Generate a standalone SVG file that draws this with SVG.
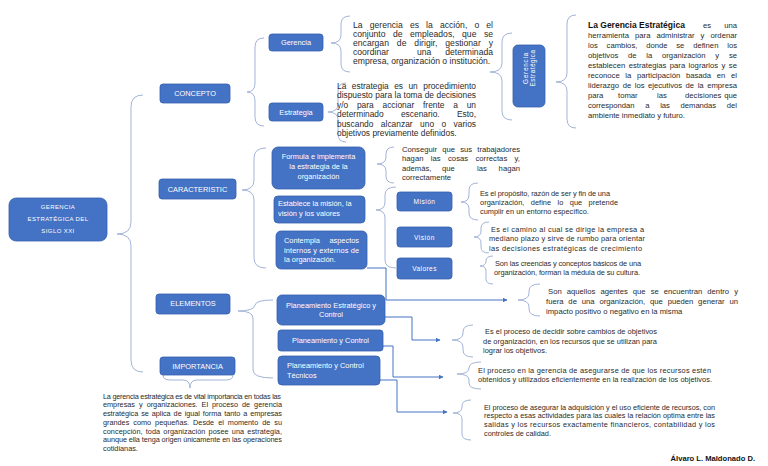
<svg xmlns="http://www.w3.org/2000/svg" width="768" height="466" viewBox="0 0 768 466">
<style>
.bx{fill:#4472C4;stroke:#3560AE;stroke-width:0.8}
.bl{font-family:"Liberation Sans",Arial,sans-serif;fill:#ffffff;font-size:7.4px}
.tx{font-family:"Liberation Sans",Arial,sans-serif;fill:#2b2b2b;font-size:7.7px}
.br{fill:none;stroke:#A3B4D8;stroke-width:1}
.cn{fill:none;stroke:#4472C4;stroke-width:1;marker-end:url(#arr)}
</style>
<defs>
<marker id="arr" viewBox="0 0 10 10" refX="9" refY="5" markerWidth="5" markerHeight="5" markerUnits="userSpaceOnUse" orient="auto"><path d="M0,0 L10,5 L0,10 z" fill="#4472C4"/></marker>
</defs>
<rect width="768" height="466" fill="#ffffff"/>

<g id="braces">
<path class="br" d="M143,95 Q131,95 131,107 L131,222 Q131,234 117,234 Q131,234 131,246 L131,360 Q131,372 143,372"/>
<path class="br" d="M264,38 Q255,38 255,47 L255,83 Q255,92 247,92 Q255,92 255,101 L255,117 Q255,126 264,126"/>
<path class="br" d="M350,16 Q341,16 341,24 L341,35 Q341,43 331,43 Q341,43 341,51 L341,64 Q341,72 350,72"/>
<path class="br" d="M346,83 Q338,83 338,91 L338,104 Q338,112 328,112 Q338,112 338,120 L338,134 Q338,142 346,142"/>
<path class="br" d="M512,33 Q502,33 502,42 L502,63 Q502,72 490,72 Q502,72 502,81 L502,111 Q502,120 512,120"/>
<path class="br" d="M576,15 Q567,15 567,24 L567,73 Q567,82 556,82 Q567,82 567,91 L567,119 Q567,128 576,128"/>
<path class="br" d="M266,148 Q254,148 254,158 L254,180 Q254,190 242,190 Q254,190 254,200 L254,258 Q254,268 266,268"/>
<path class="br" d="M394,147 Q386,147 386,154 L386,157 Q386,164 377,164 Q386,164 386,171 L386,176 Q386,183 394,183"/>
<path class="br" d="M396,187 Q385,187 385,195 L385,202 Q385,210 376,210 Q385,210 385,218 L385,260 Q385,268 396,268"/>
<path class="br" d="M478,183 Q469,183 469,190 L469,195 Q469,202 461,202 Q469,202 469,209 L469,213 Q469,220 478,220"/>
<path class="br" d="M489,222 Q481,222 481,228 L481,231 Q481,237 474,237 Q481,237 481,243 L481,247 Q481,253 489,253"/>
<path class="br" d="M493,256 Q486,256 486,261 Q486,266 480,266 Q486,266 486,271 L486,279 Q486,284 493,284"/>
<path class="br" d="M540,284 Q529,284 529,291 L529,293 Q529,300 518,300 Q529,300 529,307 L529,309 Q529,316 540,316"/>
<path class="br" d="M473,325 Q463,325 463,332 L463,333 Q463,340 452,340 Q463,340 463,347 L463,350 Q463,357 473,357"/>
<path class="br" d="M481,362 Q469,362 469,368 Q469,374 457,374 Q469,374 469,380 L469,383 Q469,389 481,389"/>
<path class="br" d="M471,400 Q462,400 462,406 L462,407 Q462,413 453,413 Q462,413 462,419 L462,434 Q462,440 471,440"/>
<path class="br" d="M273,300 Q256,300 255,305 Q254,311 238,311 Q253,311 253,318 L253,370 Q253,378 273,378"/>
<path class="br" d="M163,375 Q163,380 170,380 L183,380 Q190,380 190,388 Q190,380 197,380 L226,380 Q233,380 233,375"/>
</g>

<g id="connectors">
<path class="cn" d="M367,268 H386 V300 H507"/>
<path class="cn" d="M385,317 H412 V340 H440"/>
<path class="cn" d="M383,346 H393 V377 H443"/>
<path class="cn" d="M380,380 H397 V412 H447"/>
</g>

<g id="main">
<rect class="bx" x="9" y="198" width="98" height="43" rx="7"/>
<text class="bl" style="font-size:6px;letter-spacing:0.4px" text-anchor="middle"><tspan x="58" y="209.3">GERENCIA</tspan><tspan x="58" y="221.3">ESTRATÉGICA DEL</tspan><tspan x="58" y="233.3">SIGLO XXI</tspan></text>
</g>

<g id="concepto">
<rect class="bx" x="160" y="84" width="70" height="19" rx="3"/>
<text class="bl" x="195" y="96.3" text-anchor="middle">CONCEPTO</text>
</g>
<g id="caracteristicas">
<rect class="bx" x="159" y="179" width="77" height="20" rx="3"/>
<text class="bl" x="197.5" y="191.5" text-anchor="middle">CARACTERISTIC</text>
</g>
<g id="elementos">
<rect class="bx" x="156" y="294" width="74" height="20" rx="3"/>
<text class="bl" x="193" y="306" text-anchor="middle">ELEMENTOS</text>
</g>
<g id="importancia">
<rect class="bx" x="160" y="357" width="75" height="18" rx="3"/>
<text class="bl" x="197.5" y="368.5" text-anchor="middle">IMPORTANCIA</text>
</g>

<g id="gerencia">
<rect class="bx" x="269" y="34" width="54" height="17" rx="3"/>
<text class="bl" x="296" y="45" text-anchor="middle">Gerencia</text>
</g>
<g id="estrategia">
<rect class="bx" x="269" y="103" width="54" height="18" rx="3"/>
<text class="bl" x="296" y="114.5" text-anchor="middle">Estrategia</text>
</g>

<g id="gerencia-text">
<text class="tx" style="font-size:8.6px;word-spacing:4.7px" x="353" y="27.5" textLength="140" lengthAdjust="spacing">La gerencia es la acción, o el</text>
<text class="tx" style="font-size:8.6px;word-spacing:5.1px" x="353" y="36.7" textLength="140" lengthAdjust="spacing">conjunto de empleados, que se</text>
<text class="tx" style="font-size:8.6px;word-spacing:5.5px" x="353" y="45.9" textLength="140" lengthAdjust="spacing">encargan de dirigir, gestionar y</text>
<text class="tx" style="font-size:8.6px" y="55.1"><tspan x="353">coordinar</tspan><tspan x="417">una</tspan></text>
<text class="tx" style="font-size:8.6px" x="493" y="55.1" text-anchor="end">determinada</text>
<text class="tx" style="font-size:8.6px" x="353" y="64.3">empresa, organización o institución.</text>
</g>

<g id="estrategia-text">
<text class="tx" style="font-size:8.4px;word-spacing:3.1px" x="337" y="88.5" textLength="139" lengthAdjust="spacing">La estrategia es un procedimiento</text>
<text class="tx" style="font-size:8.4px;word-spacing:0.2px" x="337" y="98" textLength="139" lengthAdjust="spacing">dispuesto para la toma de decisiones</text>
<text class="tx" style="font-size:8.4px;word-spacing:6.4px" x="337" y="107.5" textLength="139" lengthAdjust="spacing">y/o para accionar frente a un</text>
<text class="tx" style="font-size:8.4px;word-spacing:14.9px" x="337" y="117" textLength="139" lengthAdjust="spacing">determinado escenario. Esto,</text>
<text class="tx" style="font-size:8.4px;word-spacing:5.1px" x="337" y="126.5" textLength="139" lengthAdjust="spacing">buscando alcanzar uno o varios</text>
<text class="tx" style="font-size:8.4px" x="337" y="136">objetivos previamente definidos.</text>
</g>

<g id="gerencia-estrategica">
<rect class="bx" x="513" y="45" width="32" height="62" rx="5"/>
<text class="bl" style="font-size:6.3px;letter-spacing:0.8px" text-anchor="middle" transform="translate(527.5,68) rotate(-90)">Gerencia</text>
<text class="bl" style="font-size:6.3px;letter-spacing:0.5px" text-anchor="middle" transform="translate(535,68) rotate(-90)">Estratégica</text>
</g>

<g id="ge-text">
<text class="tx" style="font-size:8.5px;font-weight:bold;fill:#111" x="588" y="27.5">La Gerencia Estratégica</text>
<text class="tx" x="703" y="27.5">es</text>
<text class="tx" x="737" y="27.5" text-anchor="end">una</text>
<text class="tx" style="word-spacing:4px" x="588" y="37.6" textLength="149" lengthAdjust="spacing">herramienta para administrar y ordenar</text>
<text class="tx" style="word-spacing:6.6px" x="588" y="47.7" textLength="149" lengthAdjust="spacing">los cambios, donde se definen los</text>
<text class="tx" style="word-spacing:7.6px" x="588" y="57.8" textLength="149" lengthAdjust="spacing">objetivos de la organización y se</text>
<text class="tx" style="word-spacing:1.3px" x="588" y="67.9" textLength="149" lengthAdjust="spacing">establecen estrategias para lograrlos y se</text>
<text class="tx" style="word-spacing:3.5px" x="588" y="78" textLength="149" lengthAdjust="spacing">reconoce la participación basada en el</text>
<text class="tx" style="word-spacing:1.4px" x="588" y="88.1" textLength="149" lengthAdjust="spacing">liderazgo de los ejecutivos de la empresa</text>
<text class="tx" y="98.2"><tspan x="588">para</tspan><tspan x="618">tomar</tspan><tspan x="657">las</tspan><tspan x="685">decisiones</tspan></text>
<text class="tx" x="737" y="98.2" text-anchor="end">que</text>
<text class="tx" style="word-spacing:8.6px" x="588" y="108.3" textLength="149" lengthAdjust="spacing">correspondan a las demandas del</text>
<text class="tx" x="588" y="118.4">ambiente inmediato y futuro.</text>
</g>

<g id="formula">
<rect class="bx" x="272" y="147" width="93" height="42" rx="6"/>
<text class="bl" text-anchor="middle"><tspan x="318.5" y="158.5">Formula e implementa</tspan><tspan x="318.5" y="168.7">la estrategia de la</tspan><tspan x="318.5" y="178.7">organización</tspan></text>
</g>
<g id="establece">
<rect class="bx" x="274" y="196" width="91" height="27" rx="4"/>
<text class="bl"><tspan x="278" y="206">Establece la misión, la</tspan><tspan x="278" y="216">visión y los valores</tspan></text>
</g>
<g id="contempla">
<rect class="bx" x="276" y="231" width="91" height="38" rx="5"/>
<text class="bl" y="242.5"><tspan x="284">Contempla</tspan></text>
<text class="bl" x="359" y="242.5" text-anchor="end">aspectos</text>
<text class="bl" x="284" y="252.5" textLength="75" lengthAdjust="spacing">internos y externos de</text>
<text class="bl" x="284" y="262">la organización.</text>
</g>

<g id="conseguir-text">
<text class="tx" style="word-spacing:3px" x="402" y="152" textLength="118" lengthAdjust="spacing">Conseguir que sus trabajadores</text>
<text class="tx" style="word-spacing:5.1px" x="402" y="161" textLength="118" lengthAdjust="spacing">hagan las cosas correctas y,</text>
<text class="tx" y="170.5"><tspan x="402">además,</tspan><tspan x="442">que</tspan><tspan x="477">las</tspan></text>
<text class="tx" x="520" y="170.5" text-anchor="end">hagan</text>
<text class="tx" x="402" y="179.5">correctamente</text>
</g>

<g id="mision">
<rect class="bx" x="397" y="192" width="55" height="19" rx="3"/>
<text class="bl" style="font-size:6.6px;letter-spacing:0.5px" x="424.5" y="204" text-anchor="middle">Misión</text>
</g>
<g id="vision">
<rect class="bx" x="397" y="227" width="55" height="20" rx="3"/>
<text class="bl" style="font-size:6.6px;letter-spacing:0.5px" x="424.5" y="239.5" text-anchor="middle">Visión</text>
</g>
<g id="valores">
<rect class="bx" x="397" y="258" width="55" height="21" rx="3"/>
<text class="bl" style="font-size:6.6px;letter-spacing:0.4px" x="424.5" y="271" text-anchor="middle">Valores</text>
</g>

<g id="mision-text">
<text class="tx" style="font-size:7.4px" x="480" y="195.5" textLength="130" lengthAdjust="spacing">Es el propósito, razón de ser y fin de una</text>
<text class="tx" style="font-size:7.4px;word-spacing:4.3px" x="480" y="204.5" textLength="138" lengthAdjust="spacing">organización, define lo que pretende</text>
<text class="tx" style="font-size:7.4px" x="480" y="213.5">cumplir en un entorno específico.</text>
</g>
<g id="vision-text">
<text class="tx" style="font-size:7.4px" x="491" y="231.5" textLength="153" lengthAdjust="spacing">Es el camino al cual se dirige la empresa a</text>
<text class="tx" style="font-size:7.4px" x="489" y="241" textLength="156" lengthAdjust="spacing">mediano plazo y sirve de rumbo para orientar</text>
<text class="tx" style="font-size:7.4px" x="489" y="250.5" textLength="153" lengthAdjust="spacing">las decisiones estratégicas de crecimiento</text>
</g>
<g id="valores-text">
<text class="tx" style="font-size:7.4px" x="495" y="265.5" textLength="146" lengthAdjust="spacing">Son las creencias y conceptos básicos de una</text>
<text class="tx" style="font-size:7.4px" x="494" y="274.5" textLength="146" lengthAdjust="spacing">organización, forman la médula de su cultura.</text>
</g>

<g id="planeamiento-estrategico">
<rect class="bx" x="277" y="295" width="108" height="30" rx="5"/>
<text class="bl" text-anchor="middle"><tspan x="331" y="307.5">Planeamiento Estratégico y</tspan><tspan x="331" y="317">Control</tspan></text>
</g>
<g id="planeamiento-control">
<rect class="bx" x="278" y="330" width="105" height="21" rx="3"/>
<text class="bl" x="330.5" y="342.5" text-anchor="middle">Planeamiento y Control</text>
</g>
<g id="planeamiento-tecnicos">
<rect class="bx" x="278" y="356" width="102" height="29" rx="4"/>
<text class="bl"><tspan x="287" y="367.5">Planeamiento y Control</tspan><tspan x="287" y="377.5">Técnicos</tspan></text>
</g>

<g id="aquellos-text">
<text class="tx" style="word-spacing:2.9px" x="548" y="293.5" textLength="190" lengthAdjust="spacing">Son aquellos agentes que se encuentran dentro y</text>
<text class="tx" style="word-spacing:2.7px" x="546" y="303.5" textLength="192" lengthAdjust="spacing">fuera de una organización, que pueden generar un</text>
<text class="tx" x="546" y="314">impacto positivo o negativo en la misma</text>
</g>
<g id="decidir-text">
<text class="tx" style="font-size:7.2px" x="485" y="334" textLength="172" lengthAdjust="spacingAndGlyphs">Es el proceso de decidir sobre cambios de objetivos</text>
<text class="tx" style="font-size:7.2px" x="483" y="343.5" textLength="174" lengthAdjust="spacingAndGlyphs">de organización, en los recursos que se utilizan para</text>
<text class="tx" style="font-size:7.2px" x="483" y="352.5" textLength="64" lengthAdjust="spacingAndGlyphs">lograr los objetivos.</text>
</g>
<g id="control-text">
<text class="tx" style="font-size:7.4px" x="478" y="372.5" textLength="233" lengthAdjust="spacing">El proceso en la gerencia de asegurarse de que los recursos estén</text>
<text class="tx" style="font-size:7.4px" x="478" y="381.5" textLength="234" lengthAdjust="spacing">obtenidos y utilizados eficientemente en la realización de los objetivos.</text>
</g>
<g id="tecnicos-text">
<text class="tx" style="font-size:7.3px" x="484" y="409.5" textLength="231" lengthAdjust="spacing">El proceso de asegurar la adquisición y el uso eficiente de recursos, con</text>
<text class="tx" style="font-size:7.3px" x="484" y="418.3" textLength="231" lengthAdjust="spacing">respecto a esas actividades para las cuales la relación optima entre las</text>
<text class="tx" style="font-size:7.3px" x="484" y="427" textLength="231" lengthAdjust="spacing">salidas y los recursos exactamente financieros, contabilidad y los</text>
<text class="tx" style="font-size:7.3px" x="484" y="435.7">controles de calidad.</text>
</g>

<g id="importancia-text">
<text class="tx" style="font-size:7.3px" x="103" y="398.5" textLength="178" lengthAdjust="spacing">La gerencia estratégica es de vital importancia en todas las</text>
<text class="tx" style="font-size:7.3px;word-spacing:2px" x="103" y="407.3" textLength="179" lengthAdjust="spacing">empresas y organizaciones. El proceso de gerencia</text>
<text class="tx" style="font-size:7.3px;word-spacing:1px" x="103" y="416" textLength="179" lengthAdjust="spacing">estratégica se aplica de igual forma tanto a empresas</text>
<text class="tx" style="font-size:7.3px;word-spacing:2px" x="103" y="424.8" textLength="179" lengthAdjust="spacing">grandes como pequeñas. Desde el momento de su</text>
<text class="tx" style="font-size:7.3px;word-spacing:1px" x="103" y="433.5" textLength="179" lengthAdjust="spacing">concepción, toda organización posee una estrategia,</text>
<text class="tx" style="font-size:7.3px" x="103" y="442.2" textLength="179" lengthAdjust="spacing">aunque ella tenga origen únicamente en las operaciones</text>
<text class="tx" style="font-size:7.3px" x="103" y="451">cotidianas.</text>
</g>

<g id="autor">
<text class="tx" style="font-size:7.6px;font-weight:bold;fill:#111" x="755" y="461" text-anchor="end">Álvaro L. Maldonado D.</text>
</g>
</svg>
